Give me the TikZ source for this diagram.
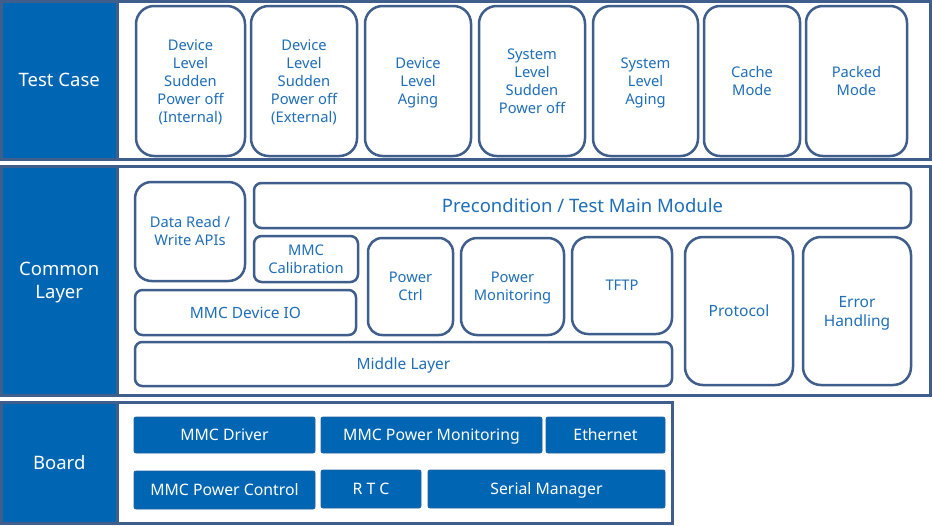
\documentclass[tikz,border=0pt]{standalone}
\usepackage{fontspec}
\setmainfont{Noto Sans}
\definecolor{edge}{HTML}{3F5E8C}
\definecolor{fillb}{HTML}{0066B3}
\definecolor{txt}{HTML}{1F6EB8}
\newcommand\mystrut{\rule[-0.25em]{0pt}{1.214em}}
\newcommand\bx[7]{%
  \pgfmathsetmacro\bxr{0.166*min(#4-#2,#5-#3)}%
  \node[rounded corners=\bxr pt, #6, minimum width={(#4-#2)*1pt}, minimum height={(#5-#3)*1pt}] (#1) at ({(#2+#4)/2},{(#3+#5)/2}) {\mystrut#7\mystrut};}
\tikzset{
  frame/.style={draw=edge, line width=3pt, fill=white, rounded corners=0pt, inner sep=0pt},
  lab/.style={draw=edge, line width=3pt, fill=fillb, text=white, rounded corners=0pt, inner sep=0pt, align=center, font=\fontsize{18.5}{23}\selectfont},
  tc/.style={draw=edge, line width=2.5pt, fill=white, text=txt, inner sep=0pt, align=center, font=\fontsize{14.7}{18}\selectfont},
  cl/.style={tc, font=\fontsize{15.5}{19}\selectfont},
  big/.style={tc, font=\fontsize{18.5}{22}\selectfont},
  brd/.style={draw=edge!50!fillb, line width=0.8pt, fill=fillb, text=white, rounded corners=2pt, inner sep=0pt, align=center, font=\fontsize{15.8}{19}\selectfont},
}
\begin{document}
\begin{tikzpicture}[x=1pt,y=-1pt]
\useasboundingbox (0,0) rectangle (932,525);
% frames
\bx{fTC}{1.5}{1.5}{930}{159}{frame}{}
\bx{fCL}{1.5}{166}{930}{395}{frame}{}
\bx{fBD}{1.5}{402}{672}{523}{frame}{}
\bx{lTC}{1.5}{1.5}{117}{159}{lab}{Test Case}
\bx{lCL}{1.5}{166}{117}{395}{lab}{Common\\Layer}
\bx{lBD}{1.5}{402}{117}{523}{lab}{Board}
% test cases
\bx{t1}{136}{6}{245}{156}{tc}{Device\\Level\\Sudden\\Power off\\(Internal)}
\bx{t2}{251}{6}{357}{156}{tc}{Device\\Level\\Sudden\\Power off\\(External)}
\bx{t3}{365}{6}{471}{156}{tc}{Device\\Level\\Aging}
\bx{t4}{479}{6}{585}{156}{tc}{System\\Level\\Sudden\\Power off}
\bx{t5}{593}{6}{698}{156}{tc}{System\\Level\\Aging}
\bx{t6}{704}{6}{800}{156}{tc}{Cache\\Mode}
\bx{t7}{806}{6}{907}{156}{tc}{Packed\\Mode}
% common layer
\bx{c1}{135}{182}{245}{281}{tc}{Data Read /\\Write APIs}
\bx{c2}{254}{183}{911}{228}{big}{Precondition / Test Main Module}
\bx{c3}{254}{236}{358}{282}{tc}{MMC\\Calibration}
\bx{c4}{135}{290}{356}{335}{cl}{MMC Device IO}
\bx{c5}{135}{342}{672}{386}{cl}{Middle Layer}
\bx{c6}{368}{238}{453}{335}{tc}{Power\\Ctrl}
\bx{c7}{461}{238}{564}{335}{tc}{Power\\Monitoring}
\bx{c8}{572}{237}{672}{334}{tc}{TFTP}
\bx{c9}{685}{237}{793}{385}{cl}{Protocol}
\bx{c10}{803}{237}{911}{385}{cl}{Error\\Handling}
% board
\bx{b1}{134}{417}{315}{453}{brd}{MMC Driver}
\bx{b2}{321}{417}{542}{453}{brd}{MMC Power Monitoring}
\bx{b3}{546}{417}{665}{453}{brd}{Ethernet}
\bx{b4}{134}{471}{315}{509}{brd}{MMC Power Control}
\bx{b5}{321}{470}{421}{508}{brd}{R T C}
\bx{b6}{428}{470}{665}{508}{brd}{Serial Manager}
\end{tikzpicture}
\end{document}
